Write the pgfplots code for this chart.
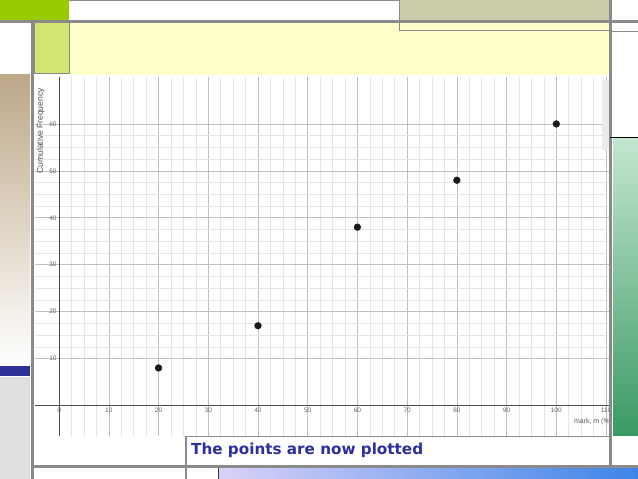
\documentclass[border=0pt]{standalone}
\usepackage{pgfplots}
\pgfplotsset{compat=1.18}
\usepackage{fontspec}
\setmainfont{Liberation Sans}
\newfontfamily\boxfont{DejaVu Sans}
\definecolor{topgreen}{RGB}{153,204,0}
\definecolor{beige}{RGB}{204,204,170}
\definecolor{paleyellow}{RGB}{255,255,204}
\definecolor{lightgreen}{RGB}{212,230,113}
\definecolor{tan}{RGB}{189,168,136}
\definecolor{barblue}{RGB}{46,49,150}
\definecolor{greentop}{RGB}{196,230,208}
\definecolor{greenbot}{RGB}{58,154,100}
\definecolor{lav}{RGB}{218,210,248}
\definecolor{stripblue}{RGB}{62,132,232}
\definecolor{framegray}{RGB}{138,138,138}
\definecolor{boxblue}{RGB}{43,47,160}
\begin{document}
\begin{tikzpicture}
\useasboundingbox (0,0) rectangle (638pt,479pt);
\begin{scope}[x=1pt,y=-1pt,yshift=479pt]
\fill[white] (0,0) rectangle (638,479);
\fill[topgreen] (0,0) rectangle (69,20);
\fill[beige] (399,0) rectangle (610,21);
\fill[paleyellow] (70,22) rectangle (610,75);
\fill[lightgreen] (34,22) rectangle (69,74);
\shade[top color=tan, bottom color=white] (0,75) rectangle (30,365);
\fill[barblue] (0,366) rectangle (30,376);
\fill[gray!25] (0,377) rectangle (30,479);
\shade[top color=greentop, bottom color=greenbot] (613,139) rectangle (638,436);
\shade[left color=lav, right color=stripblue] (218,468) rectangle (638,479);
\end{scope}
\begin{axis}[
  at={(35pt,43pt)}, anchor=south west, scale only axis,
  width=575pt, height=359pt,
  xmin=-4.85, xmax=110.8, ymin=-6.5, ymax=70,
  axis x line=middle, axis y line=middle,
  axis line style={-, draw=black!70, line width=0.8pt},
  hide obscured x ticks=false, hide obscured y ticks=false,
  xtick={0,10,...,110}, ytick={10,20,...,60},
  minor x tick num=3, minor y tick num=3,
  grid=both,
  major grid style={draw=black!25, line width=0.6pt},
  minor grid style={draw=black!10, line width=0.5pt},
  major tick length=0pt, minor tick length=0pt,
  tick style={draw=none},
  /pgf/number format/assume math mode=true,
  ticklabel style={font=\fontsize{6.5}{7}\selectfont, text=black!60},
  xticklabel style={yshift=1pt},
  yticklabel style={xshift=1pt},
  clip=false,
]
\addplot[only marks, mark=*, mark size=3.4pt, color=black!90] coordinates {
  (20,8) (40,17) (60,38) (80,48) (100,60)
};
\node[rotate=90, font=\fontsize{8.5}{10}\selectfont, text=black!70] at (axis cs:-3.7,58.5) {Cumulative Frequency};
\node[anchor=east, font=\fontsize{7}{8}\selectfont, text=black!65, inner sep=0pt] at (axis cs:110.8,-3.5) {mark, m (\%};
\end{axis}
\begin{scope}[x=1pt,y=-1pt,yshift=479pt]
\fill[black!8] (602,80) rectangle (609,150);
\draw[framegray, line width=0.6pt] (69,0.5) -- (399,0.5);
\draw[framegray, line width=1pt] (399,0) rectangle (610,31);
\draw[framegray, line width=0.6pt] (610,31.5) -- (638,31.5);
\draw[framegray, line width=2.5pt] (0,21.5) -- (638,21.5);
\draw[framegray, line width=1pt] (34,22) rectangle (69,74);
\draw[framegray, line width=3.5pt] (32.5,21) -- (32.5,479);
\draw[framegray, line width=3pt] (610.5,0) -- (610.5,467);
\draw[framegray, line width=3pt] (32,466.5) -- (638,466.5);
\draw[framegray, line width=1.2pt] (186,479) -- (186,436.5) -- (610,436.5);
\draw[black, line width=1.5pt] (610,137.5) -- (638,137.5);
\draw[black!80, line width=1pt] (218,468) -- (218,479);
\node[anchor=base west, inner sep=0pt, text=boxblue, font=\boxfont\bfseries\fontsize{15.2}{17}\selectfont] at (191,455) {The points are now plotted};
\end{scope}
\end{tikzpicture}
\end{document}
